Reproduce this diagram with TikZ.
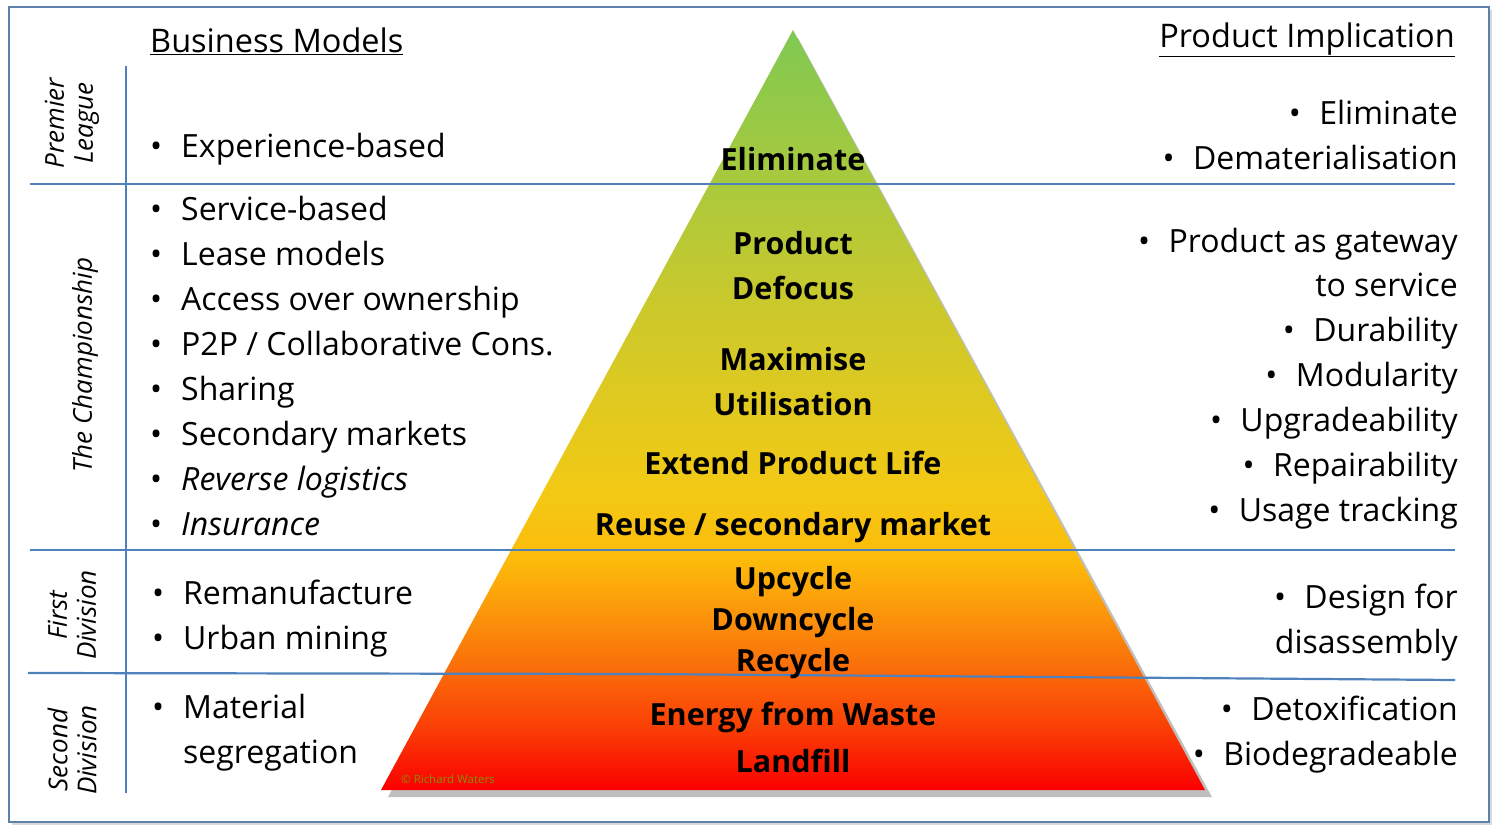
\documentclass[tikz,border=0pt]{standalone}
\usepackage{fontspec}
\setmainfont{Open Sans}
\newfontfamily\pyrfont{Open Sans}
\usetikzlibrary{shadows}
\definecolor{lineblue}{RGB}{79,129,189}
\pgfdeclareverticalshading{pyrshade}{100bp}{
  rgb(0bp)=(0.98,0,0); rgb(25bp)=(0.98,0,0); rgb(29bp)=(0.98,0.24,0.02);
  rgb(33.5bp)=(0.98,0.45,0.04); rgb(40bp)=(0.99,0.73,0.04); rgb(44.7bp)=(0.95,0.79,0.08);
  rgb(56.6bp)=(0.80,0.79,0.17); rgb(75bp)=(0.50,0.79,0.32); rgb(100bp)=(0.50,0.79,0.32)}
\begin{document}
\begin{tikzpicture}[x=1pt,y=-1pt,
  sep/.style={draw=lineblue,line width=2.2pt},
  side/.style={font=\fontsize{32}{36}\selectfont,inner sep=0pt},
  lt/.style={side,anchor=base west},
  rt/.style={side,anchor=base east},
  pyr/.style={font=\pyrfont\bfseries\fontsize{30.5}{34}\selectfont,inner sep=0pt,anchor=base},
  div/.style={font=\itshape\fontsize{26}{29}\selectfont,rotate=90,align=center,inner sep=0pt},
  hdr/.style={font=\fontsize{32.5}{36}\selectfont,inner sep=0pt}]
\useasboundingbox (0,0) rectangle (1497,833);
\node[draw=lineblue!70!gray,line width=1.5pt,fill=white,drop shadow={opacity=0.3,shadow xshift=3pt,shadow yshift=-3pt},minimum width=1480pt,minimum height=815pt,anchor=north west] (frame) at (8,6) {};
% pyramid
\coordinate (apex) at (793,30); \coordinate (bl) at (381,790); \coordinate (br) at (1205,790);
\fill[black,opacity=0.25] (798,38) -- (1212,797) -- (388,797) -- cycle;
\shade[shading=pyrshade] (apex) -- (br) -- (bl) -- cycle;
% separators
\draw[sep] (30,184) -- (1455,184);
\draw[sep] (30,550) -- (1455,550);
\draw[sep] (28,673) -- (640,674) -- (1455,680);
\draw[sep] (126,66) -- (126,793);
% headers
\node[hdr,anchor=base west] (bm) at (150,52) {\underline{Business Models}};
\node[hdr,anchor=base east] (pi) at (1455,47) {\underline{Product Implication}};
% division labels
\node[div] (d1) at (72,123) {Premier\\League};
\node[div] (d2) at (85,365) {The Championship};
\node[div] (d3) at (72,615) {First\\Division};
\node[div] (d4) at (72,750) {Second\\Division};
% left
\foreach \t/\y [count=\i] in {Experience-based/157,Service-based/220,Lease models/265,Access over ownership/310,{P2P / Collaborative Cons.}/355,Sharing/400,Secondary markets/445}{
  \node[lt] (l\i) at (181,\y) {\t};
  \node[lt] (lb\i) at (150,\y) {•};}
\node[lt] (l8) at (181,490) {\itshape Reverse logistics}; \node[lt] (lb8) at (150,490) {•};
\node[lt] (l9) at (181,535) {\itshape Insurance}; \node[lt] (lb9) at (150,535) {•};
\node[lt] (l10) at (183,604) {Remanufacture}; \node[lt] (lb10) at (152,604) {•};
\node[lt] (l11) at (183,649) {Urban mining}; \node[lt] (lb11) at (152,649) {•};
\node[lt] (l12) at (183,718) {Material}; \node[lt] (lb12) at (152,718) {•};
\node[lt] (l13) at (183,763) {segregation};
% right
\foreach \t/\y [count=\i] in {Eliminate/124,Dematerialisation/169,Product as gateway/252,Durability/341,Modularity/386,Upgradeability/431,Repairability/476,Usage tracking/521,Design for/608,Detoxification/720,Biodegradeable/765}{
  \node[rt] (r\i) at (1458,\y) {\t};
  \node[rt] (rb\i) at ([xshift=-18pt]r\i.base west) {•};}
\node[rt] (rx1) at (1458,296) {to service};
\node[rt] (rx2) at (1458,653) {disassembly};
% pyramid labels
\node[pyr] (p1) at (793,170) {Eliminate};
\node[pyr] (p2) at (793,254) {Product};
\node[pyr] (p3) at (793,299) {Defocus};
\node[pyr] (p4) at (793,370) {Maximise};
\node[pyr] (p5) at (793,415) {Utilisation};
\node[pyr] (p6) at (793,474) {Extend Product Life};
\node[pyr] (p7) at (793,535) {Reuse / secondary market};
\node[pyr] (p8) at (793,589) {Upcycle};
\node[pyr] (p9) at (793,630) {Downcycle};
\node[pyr] (p10) at (793,671) {Recycle};
\node[pyr] (p11) at (793,725) {Energy from Waste};
\node[pyr] (p12) at (793,772) {Landfill};
\node[font=\fontsize{11.5}{13}\selectfont,text=olive!80!green,anchor=base west,inner sep=0pt] (cr) at (401,783) {© Richard Waters};
\end{tikzpicture}
\end{document}
